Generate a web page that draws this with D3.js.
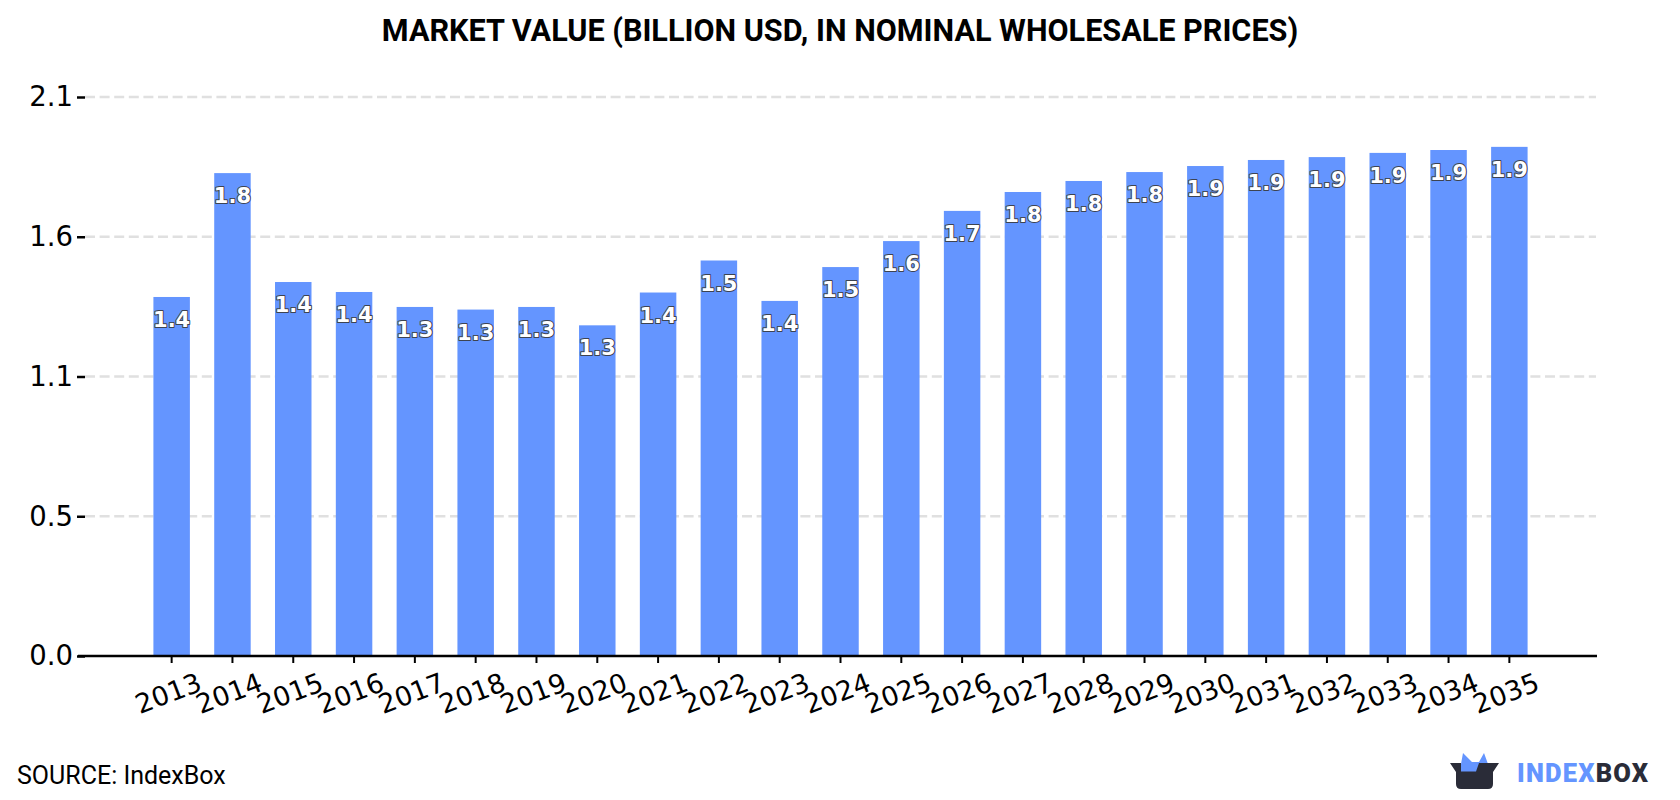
<!DOCTYPE html>
<html>
<head>
<meta charset="utf-8">
<script src="https://cdn.jsdelivr.net/npm/d3@7/dist/d3.min.js"></script>
<style>
  html, body { margin: 0; padding: 0; background: #fff; }
  svg { display: block; }
  .title { font: 700 30.6px Roboto, sans-serif; fill: #000; }
  .source { font: 400 25px Roboto, sans-serif; fill: #000; }
  .y-label { font: 400 27.5px "DejaVu Sans", sans-serif; fill: #000; }
  .x-label { font: 400 26.8px "DejaVu Sans", sans-serif; fill: #000; }
  .value { font: 700 21px "DejaVu Sans", sans-serif; fill: #fff; stroke: #3d4350; stroke-width: 2px; paint-order: stroke; stroke-linejoin: round; }
  .brand { font: 900 25.5px Roboto, sans-serif; letter-spacing: 1.2px; }
</style>
</head>
<body>
<svg id="chart" width="1680" height="800"></svg>
<script>
const chartTitle = "MARKET VALUE (BILLION USD, IN NOMINAL WHOLESALE PRICES)";
const sourceNote = "SOURCE: IndexBox";
const years = ["2013","2014","2015","2016","2017","2018","2019","2020","2021","2022","2023","2024",
               "2025","2026","2027","2028","2029","2030","2031","2032","2033","2034","2035"];
const marketValue = [1.368,1.84,1.425,1.387,1.33,1.32,1.33,1.26,1.385,1.507,1.353,1.482,
                     1.581,1.696,1.768,1.81,1.844,1.867,1.89,1.901,1.917,1.928,1.94];
const axisMax = 2.13;
const yTicks = [0, 0.5325, 1.065, 1.5975, 2.13];

const barColor = "#6495ff";
const gridColor = "#e0e0e0";
const logoDark = "#2a2c38";

const margin = { left: 85, right: 1596, top: 97, bottom: 656 };
const svg = d3.select("#chart");

const x = d3.scaleBand().domain(years).range([margin.left, margin.right])
  .paddingInner(0.4).paddingOuter(1.125);
const y = d3.scaleLinear().domain([0, axisMax]).range([margin.bottom, margin.top]);

// Dashed horizontal grid, drawn under the bars
svg.append("g").selectAll("line").data(yTicks.slice(1)).join("line")
  .attr("x1", margin.left).attr("x2", margin.right)
  .attr("y1", d => y(d)).attr("y2", d => y(d))
  .attr("stroke", gridColor).attr("stroke-width", 2.5)
  .attr("stroke-dasharray", "10 4.6");

// Bars
svg.append("g").selectAll("rect").data(years).join("rect")
  .attr("x", d => x(d))
  .attr("width", x.bandwidth())
  .attr("y", (d, i) => y(marketValue[i]))
  .attr("height", (d, i) => y(0) - y(marketValue[i]))
  .attr("fill", barColor);

// Value axis: ticks only, no domain line
const yAxis = d3.axisLeft(y).tickValues(yTicks).tickFormat(d3.format(".1f")).tickSize(8).tickPadding(4);
const yG = svg.append("g").attr("transform", `translate(${margin.left},0)`).call(yAxis);
yG.select(".domain").remove();
yG.selectAll(".tick line").attr("stroke", "#000").attr("stroke-width", 2.5);
yG.selectAll(".tick text").attr("class", "y-label");

// Year axis with slanted labels
const xAxis = d3.axisBottom(x).tickSize(7).tickPadding(0);
const xG = svg.append("g").attr("transform", `translate(0,${margin.bottom})`).call(xAxis);
xG.select(".domain").attr("d", `M78,0H1597`).attr("stroke", "#000").attr("stroke-width", 2.5);
xG.selectAll(".tick line").attr("stroke", "#000").attr("stroke-width", 2);
xG.selectAll(".tick text")
  .attr("class", "x-label")
  .attr("text-anchor", "middle")
  .attr("dy", null)
  .attr("y", 0)
  .attr("transform", "translate(0,46) rotate(-21)");

// Value labels sit inside the top of each bar
svg.append("g").selectAll("text").data(years).join("text")
  .attr("class", "value")
  .attr("text-anchor", "middle")
  .attr("x", d => x(d) + x.bandwidth() / 2)
  .attr("y", (d, i) => y(marketValue[i]) + 30)
  .text((d, i) => marketValue[i].toFixed(1));

// Title and source note
svg.append("text").attr("class", "title").attr("x", 840).attr("y", 41)
  .attr("text-anchor", "middle").text(chartTitle);
svg.append("text").attr("class", "source").attr("x", 17).attr("y", 784).text(sourceNote);

// Brand mark: open box with a blue crown, then the wordmark
const logo = svg.append("g").attr("transform", "translate(1450,753)");
logo.append("path").attr("fill", barColor)
  .attr("d", "M11,11 L13,0 L22,9 L29,9 L34,0 L38,11 L38,20 L26,20 L24,26 L11,26 Z");
logo.append("path").attr("fill", logoDark)
  .attr("d", "M0,10 L11,10 L11,18.5 L26,18.5 L29,10 L49,10 L43,19 L43,31 Q43,36 38,36 L11,36 Q6,36 6,31 L6,19 Z");

const brand = svg.append("text").attr("class", "brand").attr("x", 1517).attr("y", 782);
brand.append("tspan").attr("fill", barColor).text("INDEX");
brand.append("tspan").attr("fill", logoDark).text("BOX");
</script>
</body>
</html>
